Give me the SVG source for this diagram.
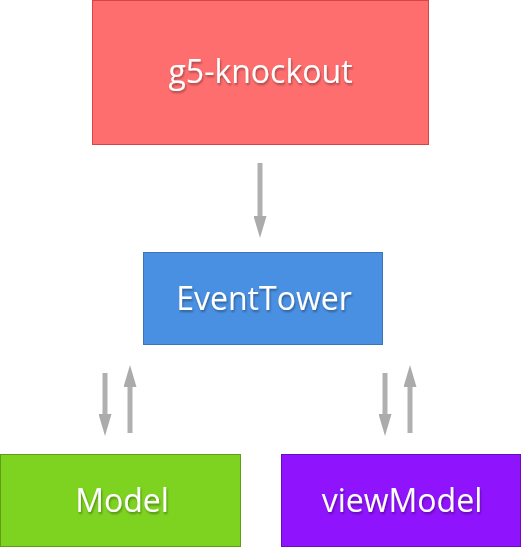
<svg xmlns="http://www.w3.org/2000/svg" width="522" height="548" viewBox="0 0 522 548">
<defs>
<filter id="ts" x="-20%" y="-40%" width="140%" height="180%">
<feDropShadow dx="1" dy="2" stdDeviation="1.2" flood-color="#000" flood-opacity="0.35"/>
</filter>
<marker id="ah" viewBox="0 0 22 13" refX="0" refY="6.5" markerWidth="22" markerHeight="13" markerUnits="userSpaceOnUse" orient="auto">
<path d="M0,0 L22,6.5 L0,13 Z" fill="#ababab"/>
</marker>
</defs>
<style>
.lbl{font-family:"Open Sans","Noto Sans","DejaVu Sans",sans-serif;font-size:32px;fill:#fff;text-anchor:middle;filter:url(#ts)}
.conn{stroke:#b0b0b0;stroke-width:5;fill:none}
</style>
<g id="g5-knockout">
<rect x="92.5" y="0.5" width="336" height="144" fill="#FF6E6E" stroke="#D64545"/>
<text class="lbl" x="260.5" y="83">g5-knockout</text>
</g>
<g id="EventTower">
<rect x="143.5" y="252.5" width="239" height="92" fill="#4A90E2" stroke="#3C74B8"/>
<text class="lbl" x="264" y="310">EventTower</text>
</g>
<g id="Model">
<rect x="0.5" y="454.5" width="240" height="92" fill="#7ED321" stroke="#5E9E16"/>
<text class="lbl" x="122" y="512">Model</text>
</g>
<g id="viewModel">
<rect x="281.5" y="454.5" width="239" height="92" fill="#9013FE" stroke="#6A0EBD"/>
<text class="lbl" x="402" y="512">viewModel</text>
</g>
<g id="connectors">
<line class="conn" x1="260" y1="163" x2="260" y2="216" marker-end="url(#ah)"/>
<line class="conn" x1="105" y1="373" x2="105" y2="414" marker-end="url(#ah)"/>
<line class="conn" x1="130" y1="433" x2="130" y2="387" marker-end="url(#ah)"/>
<line class="conn" x1="385" y1="373" x2="385" y2="414" marker-end="url(#ah)"/>
<line class="conn" x1="410" y1="433" x2="410" y2="387" marker-end="url(#ah)"/>
</g>
</svg>
